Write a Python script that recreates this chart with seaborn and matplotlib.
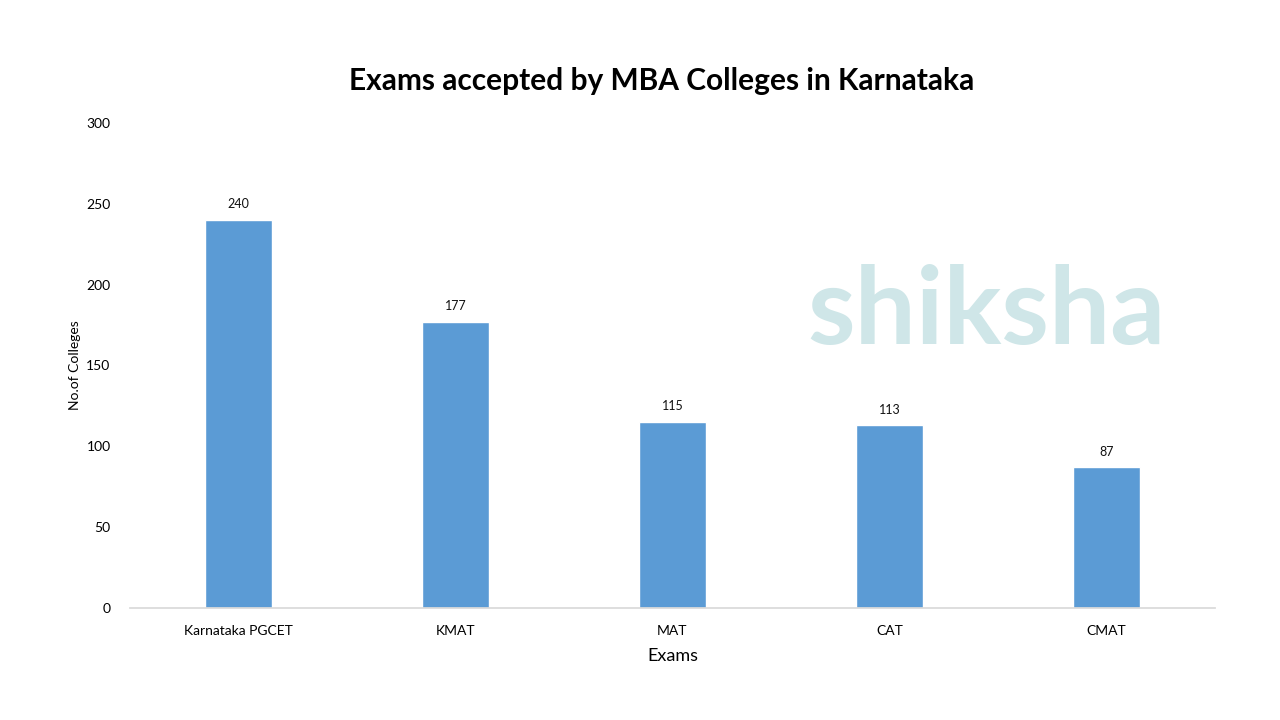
import matplotlib
matplotlib.use("Agg")
import matplotlib.pyplot as plt
import seaborn as sns
import pandas as pd

# data
exams = ["Karnataka PGCET", "KMAT", "MAT", "CAT", "CMAT"]
colleges = [240, 177, 115, 113, 87]
y_ticks = [0, 50, 100, 150, 200, 250, 300]

df = pd.DataFrame({"Exams": exams, "No.of Colleges": colleges})

sns.set_theme(style="white")
plt.rcParams["font.family"] = ["Lato", "DejaVu Sans"]

fig = plt.figure(figsize=(12.8, 7.2), dpi=100)
ax = fig.add_axes([0.1016, 0.1556, 0.8475, 0.6736])

# watermark
fig.text(0.771, 0.565, "shiksha", fontsize=78, color="#cfe6e8", ha="center",
         va="center", fontweight="bold", zorder=0)

sns.barplot(data=df, x="Exams", y="No.of Colleges", color="#5B9BD5",
            width=0.31, saturation=1, ax=ax)

for i, v in enumerate(colleges):
    ax.text(i, v + 6, str(v), ha="center", va="bottom", fontsize=9, color="#111111")

ax.set_ylim(0, 300)
ax.set_yticks(y_ticks)
ax.set_xlim(-0.5, len(exams) - 0.5)
ax.tick_params(axis="both", length=0, labelsize=10, colors="#000000")
ax.tick_params(axis="y", pad=14)
ax.tick_params(axis="x", pad=12)
ax.set_xlabel("Exams", fontsize=13, labelpad=8, color="#000000")
ax.set_ylabel("No.of Colleges", fontsize=10, labelpad=4, color="#000000")

for s in ["top", "right", "left"]:
    ax.spines[s].set_visible(False)
ax.spines["bottom"].set_color("#d9d9d9")
ax.patch.set_alpha(0)

fig.suptitle("Exams accepted by MBA Colleges in Karnataka", fontsize=21.5,
             fontweight="bold", x=0.517, y=0.907, color="#000000")

fig.savefig("out.png", dpi=100)
